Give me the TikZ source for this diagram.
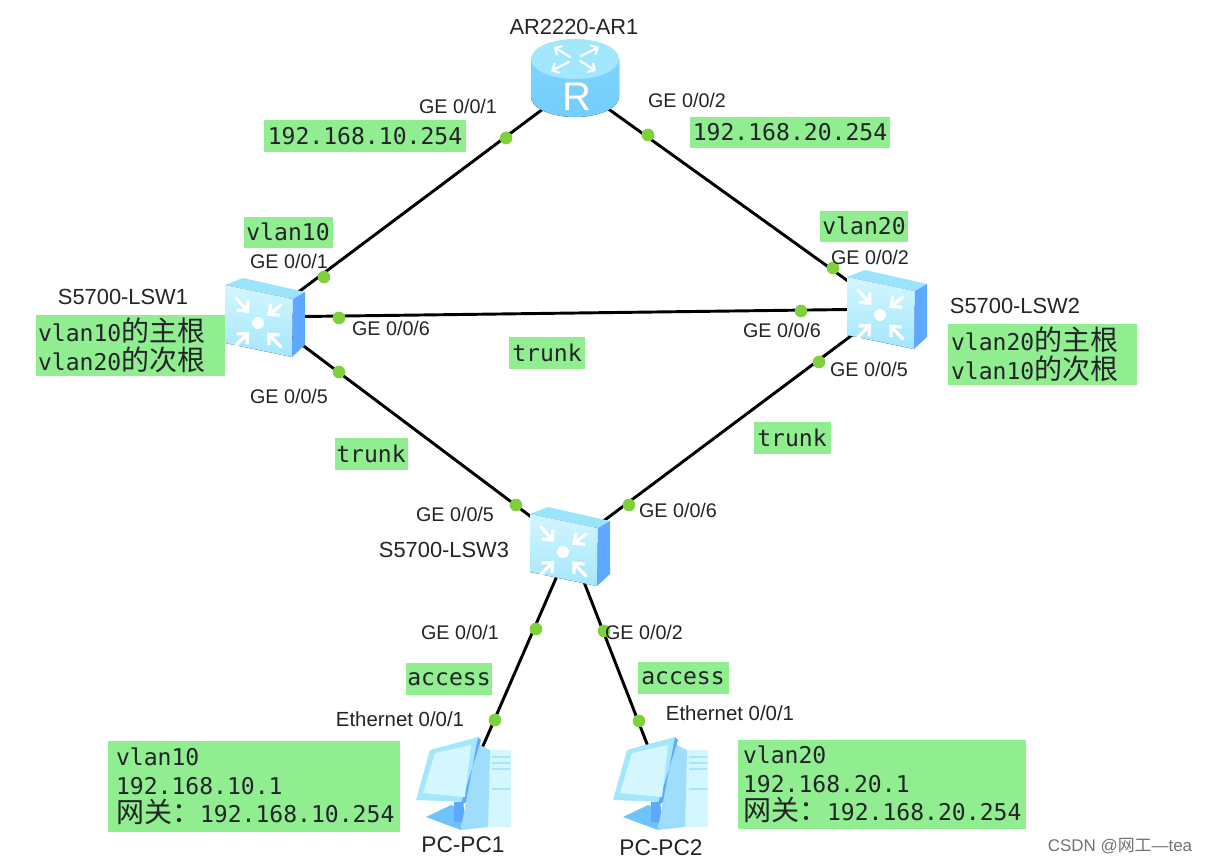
\documentclass[tikz,border=0pt]{standalone}
\usepackage{fontspec}
\setsansfont{Liberation Sans}
\setmonofont{DejaVu Sans Mono}
\newfontfamily\cjk{Noto Sans CJK SC}
\usetikzlibrary{arrows.meta}
\newcommand{\zh}[1]{{\cjk\fontsize{21}{21}\selectfont #1}}
\definecolor{boxgreen}{HTML}{90EE90}
\definecolor{portgreen}{HTML}{7FD13B}
\definecolor{inktext}{HTML}{222428}
\definecolor{iconpale}{HTML}{D3F6FF}
\definecolor{iconlight}{HTML}{A3E7FC}
\definecolor{iconmid}{HTML}{74CEFB}
\definecolor{icondeep}{HTML}{5FA8FF}
\tikzset{
	devnode/.style={inner sep=0pt,minimum width=30pt,minimum height=30pt},
	portdot/.style={circle,fill=portgreen,inner sep=0pt,minimum size=9.5pt},
	portlabel/.style={font=\sffamily\fontsize{14.8}{16}\selectfont,text=inktext,inner sep=0pt},
	namelabel/.style={font=\sffamily\fontsize{16.4}{18}\selectfont,text=inktext,inner sep=0pt},
	greenbox/.style={fill=boxgreen,font=\ttfamily\fontsize{17.3}{21.5}\selectfont,text=inktext,inner xsep=0pt,inner ysep=2pt,align=left},
	boxsize/.style n args={3}{minimum width=#1*0.75pt,minimum height=#2*0.75pt,text width=(#1-2*#3)*0.75pt},
	link/.style={line width=2.2pt,black},
	iconline/.style={white,line width=2.4pt,line cap=round},
	sw/.pic={
		\fill[top color=iconpale,bottom color=iconlight] (-40,-32) -- (28,-18) -- (27,40) -- (-40,26) -- cycle;
		\fill[iconlight!85!iconmid] (-40,-32) -- (-22,-39) -- (40,-25) -- (28,-18) -- cycle;
		\fill[icondeep] (28,-18) -- (40,-25) -- (40,28) -- (27,40) -- cycle;
		\fill[white] (-7,6) circle (6);
		\foreach \ax/\ay in {-29/-19,16/-12,-29/28,16/30}{
			\draw[iconline,-{Straight Barb[length=6pt,width=11pt]}] (\ax,\ay) -- ({\ax+0.6*(-7-\ax)},{\ay+0.6*(6-\ay)});
		}
	},
	rt/.pic={
		\fill[top color=iconmid!80!iconlight,bottom color=iconmid] (-44,-26) -- (-44,12) arc[start angle=180,end angle=0,x radius=44,y radius=20] -- (44,-26) -- cycle;
		\fill[iconlight] (0,-26) ellipse [x radius=44,y radius=20];
		\foreach \ax/\ay/\bx/\by in {-5/-28/-21/-38,5/-24/21/-14,6/-29/24/-38,-6/-23/-24/-14}{
			\draw[iconline,line width=1.6pt,-{Straight Barb[length=4pt,width=8pt]}] (\ax,\ay) -- (\bx,\by);
		}
		\node[inner sep=0pt,text=white,font=\sffamily\fontsize{30}{31}\selectfont] at (2,12) {R};
	},
	pcicon/.pic={
		\fill[iconmid!70!icondeep] (-40,32) -- (-5,45) -- (15,32) -- (-15,20) -- cycle;
		\fill[icondeep] (-12,17) -- (-3,17) -- (0,38) -- (-12,37) -- cycle;
		\fill[iconpale] (15,-35) -- (45,-35) -- (45,42) -- (-5,42) -- cycle;
		\fill[iconmid!70!white] (10,-42) -- (24,-35) -- (22,42) -- (-5,45) -- cycle;
		\foreach \ay in {-28,-22,-16,4}{
			\draw[iconlight,line width=1pt] (26,\ay) -- (44,\ay);
		}
		\fill[iconlight] (-36,-35) -- (12,-48) -- (0,17) -- (-50,15) -- cycle;
		\fill[icondeep] (12,-48) -- (15,-45) -- (-6,22) -- (0,17) -- cycle;
		\fill[iconpale] (-31,-32) -- (5,-40) -- (-1,12) -- (-43,8) -- cycle;
	}
}
\begin{document}
\begin{tikzpicture}[x=0.75pt,y=-0.75pt]
	\useasboundingbox (0,0) rectangle (1206,865);
	\fill[white] (0,0) rectangle (1206,865);
	% devices
	\node[devnode] (ar1) at (575,85){};
	\node[devnode] (lsw1) at (265,317){};
	\node[devnode] (lsw2) at (887,309){};
	\node[devnode] (lsw3) at (570,546){};
	\node[devnode] (pc1) at (466,785){};
	\node[devnode] (pc2) at (663,785){};
	% links
	\draw[link] (ar1) to (lsw1);
	\draw[link] (ar1) to (lsw2);
	\draw[link] (lsw1) to (lsw2);
	\draw[link] (lsw1) to (lsw3);
	\draw[link] (lsw2) to (lsw3);
	\draw[link] (lsw3) to (pc1);
	\draw[link] (lsw3) to (pc2);
	\foreach\x/\y [count=\i] in {506/138,648/135,324/277,833/268,339/318,801/311,339/372,819/362,516/505,629/505,536/629,604/631,495/720,639/721}{
		\node[portdot] (dot\i) at (\x,\y){};
	}
	% icons
	\pic at (ar1) {rt};
	\foreach\n in {lsw1,lsw2,lsw3}{
		\pic at (\n) {sw};
	}
	\foreach\n in {pc1,pc2}{
		\pic at (\n) {pcicon};
	}
	% device names and ports
	\node[namelabel] (nar1) at (574,27){AR2220-AR1};
	\node[namelabel] (nlsw1) at (123,297){S5700-LSW1};
	\node[namelabel] (nlsw2) at (1015,306){S5700-LSW2};
	\node[namelabel] (nlsw3) at (444,550){S5700-LSW3};
	\node[namelabel,font=\sffamily\fontsize{17}{18}\selectfont] (npc1) at (463,845){PC-PC1};
	\node[namelabel,font=\sffamily\fontsize{17}{18}\selectfont] (npc2) at (661,848){PC-PC2};
	\foreach\x/\y/\t [count=\i] in {458/106/{GE 0/0/1},687/100/{GE 0/0/2},289/261/{GE 0/0/1},870/257/{GE 0/0/2},391/328/{GE 0/0/6},782/330/{GE 0/0/6},289/396/{GE 0/0/5},869/369/{GE 0/0/5},455/514/{GE 0/0/5},678/510/{GE 0/0/6},460/632/{GE 0/0/1},644/632/{GE 0/0/2}}{
		\node[portlabel] (p\i) at (\x,\y){\t};
	}
	\node[portlabel,font=\sffamily\fontsize{15.3}{16}\selectfont] (eth1) at (400,719){Ethernet 0/0/1};
	\node[portlabel,font=\sffamily\fontsize{15.3}{16}\selectfont] (eth2) at (730,713){Ethernet 0/0/1};
	% notes
	\foreach\x/\y/\w/\h/\t [count=\i] in {365/136/202/32/192.168.10.254,790/132/200/31/192.168.20.254,288/232/89/31/vlan10,864/226/88/31/vlan20,547/353/76/32/trunk,371/454/73/32/trunk,792/438/77/32/trunk,449/679/86/32/access,683/678/91/32/access}{
		\node[greenbox,boxsize={\w}{\h}{0},align=center] (note\i) at (\x,\y){\t};
	}
	\node[greenbox,boxsize={189}{61}{2}] (root1) at (130.5,345.5){vlan10\zh{的主根}\\vlan20\zh{的次根}};
	\node[greenbox,boxsize={189}{61}{3}] (root2) at (1042.5,354.5){vlan20\zh{的主根}\\vlan10\zh{的次根}};
	\node[greenbox,boxsize={292}{91}{8}] (host1) at (254,786.5){vlan10\\192.168.10.1\\\zh{网关：}192.168.10.254};
	\node[greenbox,boxsize={288}{89}{5}] (host2) at (882,784.5){vlan20\\192.168.20.1\\\zh{网关：}192.168.20.254};
	\node[inner sep=0pt,text=black!55,font=\sffamily\fontsize{12.7}{14}\selectfont] (mark) at (1120,846){CSDN @{\cjk 网工}—tea};
\end{tikzpicture}
\end{document}
